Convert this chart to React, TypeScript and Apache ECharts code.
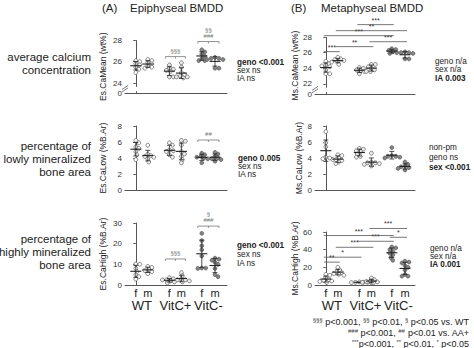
import React, { useEffect, useRef } from "react";
import * as echarts from "echarts";

const FONT = "'Liberation Sans', Arial, Helvetica, sans-serif";

// ---------- categories ----------
const sexLabels = ["f", "m", "f", "m", "f", "m"];
const genoLabels = ["WT", "VitC+", "VitC-"];
const groupPos = [0, 1, 2.8, 3.8, 5.5, 6.6];
const genoPos = [0.5, 3.3, 6.05];

// ---------- data (per group: WT f, WT m, VitC+ f, VitC+ m, VitC- f, VitC- m) ----------
const esCaMean = [
  [26.1, 26.0, 25.8, 25.7, 25.5, 25.3, 25.0],
  [26.2, 26.1, 25.9, 25.8, 25.6, 25.5, 25.4],
  [25.7, 25.4, 25.3, 25.2, 25.1, 24.6, 24.6],
  [25.9, 25.5, 25.0, 24.8, 24.7, 24.6, 24.6, 24.5],
  [27.1, 26.9, 26.7, 26.5, 26.3, 26.1, 26.1],
  [26.4, 26.3, 26.3, 26.2, 26.2, 25.4, 25.4],
];
const esCaLow = [
  [6.2, 5.9, 5.4, 5.2, 4.8, 4.4, 3.8],
  [5.6, 4.5, 4.3, 4.2, 4.1, 3.9, 3.5],
  [5.9, 5.6, 5.0, 4.9, 4.8, 4.4, 4.1],
  [6.2, 6.1, 5.6, 4.8, 4.5, 4.2, 3.8, 3.4],
  [4.6, 4.4, 4.2, 4.1, 4.0, 3.9, 3.4],
  [4.7, 4.5, 4.2, 4.0, 3.9, 3.8, 3.6],
];
const esCaHigh = [
  [10.2, 10.0, 8.0, 6.5, 5.0, 4.0, 2.8],
  [9.0, 8.5, 7.5, 7.0, 6.5, 5.5],
  [3.5, 3.0, 2.5, 2.5, 2.0, 1.5, 1.0],
  [6.0, 4.5, 3.0, 2.5, 2.5, 2.0, 1.5],
  [25.0, 21.5, 19.0, 17.0, 14.0, 8.2, 8.0, 8.2],
  [13.0, 12.5, 12.0, 11.0, 10.0, 8.0, 5.0, 4.0],
];
const msCaMean = [
  [24.9, 24.6, 24.4, 24.3, 24.2, 23.8, 23.3, 23.3],
  [25.4, 25.2, 25.1, 25.0, 24.9, 24.8, 24.5],
  [24.1, 24.0, 23.8, 23.7, 23.6, 23.3],
  [24.5, 24.5, 24.2, 24.0, 23.8, 23.6, 23.6],
  [26.5, 26.4, 26.3, 26.1, 26.0, 25.9],
  [26.1, 26.0, 26.0, 25.9, 25.2, 25.2],
];
const msCaLow = [
  [7.3, 5.9, 5.4, 4.1, 4.0, 3.9, 3.8],
  [4.4, 4.3, 4.0, 3.8, 3.7, 3.5, 3.3],
  [5.2, 5.1, 4.9, 4.8, 4.5, 4.2, 4.1],
  [4.6, 3.5, 3.4, 3.4, 3.3, 3.2, 3.0],
  [5.3, 4.3, 4.2, 4.2, 4.1, 4.0],
  [3.5, 3.2, 3.0, 2.9, 2.8, 2.7, 2.5],
];
const msCaHigh = [
  [12, 11, 8, 6, 5, 4.5, 4, 3],
  [20, 17, 15, 14, 13, 12, 11],
  [3.5, 3.2, 3, 3, 2.8, 2.5],
  [8, 6, 4.5, 4, 3.5, 3, 2.5],
  [43, 42, 40, 38, 36, 34, 31, 28],
  [27, 26, 25, 22, 20, 17, 12, 10, 10],
];

// ---------- tick labels ----------
const esCaMeanTicks = [0, 24, 26, 28];
const esCaLowTicks = [0, 2, 4, 6, 8];
const esCaHighTicks = [0, 10, 20, 30];
const msCaMeanTicks = [0, 22, 24, 26, 28];
const msCaLowTicks = [0, 2, 4, 6, 8];
const msCaHighTicks = [0, 20, 40, 60];

// ---------- significance brackets (group index from/to, level, marks) ----------
const esCaMeanBrackets = [
  { from: 2, to: 3, y: 26.47, marks: ["§§§"] },
  { from: 4, to: 5, y: 27.86, marks: ["###", "§§"] },
];
const esCaLowBrackets = [{ from: 4, to: 5, y: 6.25, marks: ["##"] }];
const esCaHighBrackets = [
  { from: 2, to: 3, y: 12.6, marks: ["§§§"] },
  { from: 4, to: 5, y: 28.5, marks: ["###", "§"] },
];
const msCaMeanBrackets = [
  { from: 0, to: 1, y: 26.13, marks: ["***"] },
  { from: 1, to: 3, y: 26.77, marks: ["**"] },
  { from: 3, to: 5, y: 27.4, marks: ["***"] },
  { from: 0, to: 4, y: 28.17, marks: ["***"] },
  { from: 1, to: 5, y: 28.81, marks: ["**"] },
  { from: 2, to: 4, y: 29.58, marks: ["***"] },
];
const msCaHighBrackets = [
  { from: 0, to: 1, y: 25.9, marks: ["**"] },
  { from: 0, to: 2, y: 31.5, marks: ["*"] },
  { from: 1, to: 3, y: 42.7, marks: ["***"] },
  { from: 2, to: 4, y: 49.5, marks: ["***"] },
  { from: 4, to: 5, y: 54, marks: ["*"] },
  { from: 0, to: 4, y: 56, marks: ["***"] },
  { from: 3, to: 5, y: 64, marks: ["***"] },
];

const groupFill = ["#ffffff", "#ffffff", "#f0f0f0", "#f0f0f0", "#858585", "#858585"];

const X_MIN = -0.9;
const X_UNIT = 12;

const panels = [
  { left: 125, top: 40, width: 102, height: 53.5, values: esCaMean, ticks: esCaMeanTicks, min: 0, max: 28,
    name: "Es.CaMean (wt%)", brk: { start: 0.3, end: 23.7, gap: 0.33 }, brackets: esCaMeanBrackets, kind: "A", bottom: false },
  { left: 125, top: 126, width: 102, height: 64, values: esCaLow, ticks: esCaLowTicks, min: 0, max: 8,
    name: "Es.CaLow (%B.Ar)", brk: null, brackets: esCaLowBrackets, kind: "A", bottom: false },
  { left: 125, top: 223, width: 102, height: 62, values: esCaHigh, ticks: esCaHighTicks, min: 0, max: 30,
    name: "Es.CaHigh (%B.Ar)", brk: null, brackets: esCaHighBrackets, kind: "A", bottom: true },
  { left: 315, top: 37, width: 100, height: 57, values: msCaMean, ticks: msCaMeanTicks, min: 0, max: 28,
    name: "Ms.CaMean (wt%)", brk: { start: 0.3, end: 21.6, gap: 0.58 }, brackets: msCaMeanBrackets, kind: "B", bottom: false },
  { left: 315, top: 126, width: 100, height: 64, values: msCaLow, ticks: msCaLowTicks, min: 0, max: 8,
    name: "Ms.CaLow (%B.Ar)", brk: null, brackets: [], kind: "B", bottom: false },
  { left: 315, top: 232, width: 100, height: 53, values: msCaHigh, ticks: msCaHighTicks, min: 0, max: 60,
    name: "Ms.CaHigh (%B.Ar)", brk: null, brackets: msCaHighBrackets, kind: "B", bottom: true },
];

const statBlocks = [
  { x: 237, y: 62, gap: 8.4, lines: [{ t: "geno <0.001", b: true }, { t: "sex ns" }, { t: "IA ns" }] },
  { x: 435, y: 61, gap: 8.8, lines: [{ t: "geno n/a" }, { t: "sex n/a" }, { t: "IA 0.003", b: true }] },
  { x: 238, y: 158, gap: 8.4, lines: [{ t: "geno 0.005", b: true }, { t: "sex ns" }, { t: "IA ns" }] },
  { x: 429, y: 147, gap: 10, lines: [{ t: "non-pm" }, { t: "geno ns" }, { t: "sex <0.001", b: true }] },
  { x: 237, y: 245, gap: 9, lines: [{ t: "geno <0.001", b: true }, { t: "sex ns" }, { t: "IA ns" }] },
  { x: 430, y: 248, gap: 8.4, lines: [{ t: "geno n/a" }, { t: "sex n/a" }, { t: "IA 0.001", b: true }] },
];

const rowLabels = [
  { y: 63.5, text: "average calcium\nconcentration" },
  { y: 158.5, text: "percentage of\nlowly mineralized\nbone area" },
  { y: 252, text: "percentage of\nhighly mineralized\nbone area" },
];

const footnotes = [
  "{s|§§§} p<0.001, {s|§§} p<0.01, {s|§} p<0.05 vs. WT",
  "{s|###} p<0.001, {s|##} p<0.01 vs. AA+",
  "{s|***}p<0.001, {s|**} p<0.01, {s|*} p<0.05",
];

const mean = (a: number[]) => a.reduce((s, v) => s + v, 0) / a.length;
const sd = (a: number[]) => {
  const m = mean(a);
  return Math.sqrt(a.reduce((s, v) => s + (v - m) * (v - m), 0) / (a.length - 1));
};
const nearestIdx = (arr: number[], v: number) => {
  let best = 0;
  arr.forEach((a, i) => {
    if (Math.abs(a - v) < Math.abs(arr[best] - v)) best = i;
  });
  return best;
};

const seg = (x1: number, y1: number, x2: number, y2: number, w = 0.9, c = "#333") => ({
  type: "line",
  shape: { x1, y1, x2, y2 },
  style: { stroke: c, lineWidth: w },
});

function pointsRender(values: number[][]) {
  return (params: any, api: any) => {
    const gi = api.value(2);
    const vals = values[gi];
    const x = groupPos[gi];
    const r = 1.9;
    const cx = api.coord([x, vals[0]])[0];
    const ys = vals.map((v) => api.coord([x, v])[1]).sort((a: number, b: number) => a - b);
    const placed: { x: number; y: number }[] = [];
    ys.forEach((py: number) => {
      let chosen = 0;
      for (let k = 0; k < 30; k++) {
        const off = k === 0 ? 0 : (k % 2 ? 1 : -1) * Math.ceil(k / 2) * 1.0;
        const ok = placed.every((p) => (p.x - (cx + off)) ** 2 + (p.y - py) ** 2 >= (2 * r * 0.85) ** 2);
        if (ok) {
          chosen = off;
          break;
        }
      }
      placed.push({ x: cx + chosen, y: py });
    });
    const children: any[] = placed.map((p) => ({
      type: "circle",
      shape: { cx: p.x, cy: p.y, r },
      style: { fill: groupFill[gi], stroke: "#5c5c5c", lineWidth: 0.75 },
    }));
    const m = mean(vals);
    const s = sd(vals);
    const ym = api.coord([x, m])[1];
    const yt = api.coord([x, m + s])[1];
    const yb = api.coord([x, m - s])[1];
    children.push(seg(cx - 5.5, ym, cx + 5.5, ym, 1.1, "#222"));
    children.push(seg(cx, yt, cx, yb, 0.8, "#222"));
    children.push(seg(cx - 2.5, yt, cx + 2.5, yt, 0.8, "#222"));
    children.push(seg(cx - 2.5, yb, cx + 2.5, yb, 0.8, "#222"));
    return { type: "group", children };
  };
}

function bracketRender(brs: any[], kind: string) {
  return (params: any, api: any) => {
    const b = brs[api.value(2)];
    const p1 = api.coord([groupPos[b.from], b.y]);
    const p2 = api.coord([groupPos[b.to], b.y]);
    const ext = kind === "A" ? 4 : 2;
    const x1 = p1[0] - ext;
    const x2 = p2[0] + ext;
    const y = p1[1];
    const col = kind === "A" ? "#777" : "#555";
    const children: any[] = [seg(x1, y, x2, y, 0.8, col)];
    if (kind === "A") {
      children.push(seg(x1, y, x1, y + 2, 0.8, col));
      children.push(seg(x2, y, x2, y + 2, 0.8, col));
      const mx = (x1 + x2) / 2;
      children.push(seg(mx, y, mx, y + 2, 0.8, col));
    }
    const mx = (x1 + x2) / 2;
    b.marks.forEach((mk: string, k: number) => {
      children.push({
        type: "text",
        x: mx,
        y: y - (kind === "A" ? 3 : 1) - k * 6,
        style: {
          text: mk,
          fontSize: kind === "A" ? 6 : 7,
          fontFamily: FONT,
          fill: kind === "A" ? "#777" : "#333",
          align: "center",
          verticalAlign: "bottom",
        },
      });
    });
    return { type: "group", children };
  };
}

function breakRender(p: any) {
  return (params: any, api: any) => {
    const mid = (p.brk.start + p.brk.end) / 2;
    const c = api.coord([X_MIN, mid]);
    const x = c[0];
    const y = c[1];
    return {
      type: "group",
      children: [
        { type: "rect", shape: { x: x - 2, y: y - 2.5, width: 4, height: 5 }, style: { fill: "#fff" } },
        seg(x - 3, y + 1, x + 3, y - 3, 0.8, "#555"),
        seg(x - 3, y + 3.5, x + 3, y - 0.5, 0.8, "#555"),
      ],
    };
  };
}

function buildOption() {
  const grid: any[] = [];
  const xAxis: any[] = [];
  const yAxis: any[] = [];
  const series: any[] = [];
  panels.forEach((p, i) => {
    grid.push({ left: p.left, top: p.top, width: p.width, height: p.height, containLabel: false, outerBoundsMode: "none" });
    const xmax = X_MIN + p.width / X_UNIT;
    xAxis.push({
      type: "value",
      gridIndex: i,
      min: X_MIN,
      max: xmax,
      axisLine: { show: true, onZero: false, lineStyle: { color: "#555", width: 1 } },
      axisTick: { show: false },
      splitLine: { show: false },
      axisLabel: p.bottom
        ? {
            show: true,
            customValues: groupPos,
            formatter: (v: number) => sexLabels[nearestIdx(groupPos, v)],
            fontSize: 11,
            fontFamily: FONT,
            color: "#222",
            margin: 2,
          }
        : { show: false },
    });
    const y: any = {
      type: "value",
      gridIndex: i,
      min: p.min,
      max: p.max,
      name: p.name,
      nameLocation: "middle",
      nameGap: p.kind === "A" ? 18 : 12,
      nameTextStyle: { fontSize: 8.5, fontFamily: FONT, color: "#222" },
      axisLine: { show: true, lineStyle: { color: "#555", width: 1 } },
      axisTick: { show: true, length: 2.5, customValues: p.ticks, lineStyle: { color: "#555" } },
      axisLabel: { customValues: p.ticks, fontSize: 8, fontFamily: FONT, color: "#333", margin: 3 },
      splitLine: { show: false },
    };
    if (p.brk) {
      y.breaks = [p.brk];
      y.breakArea = {
        show: true,
        itemStyle: { color: "#ffffff", borderColor: "rgba(0,0,0,0)", borderWidth: 0, opacity: 1 },
        zigzagAmplitude: 1,
        zigzagZ: 100,
      };
    }
    yAxis.push(y);
    series.push({
      type: "custom",
      xAxisIndex: i,
      yAxisIndex: i,
      clip: false,
      z: 5,
      data: p.values.map((vals, gi) => [groupPos[gi], mean(vals), gi]),
      encode: { x: 0, y: 1 },
      renderItem: pointsRender(p.values),
    });
    if (p.brackets.length) {
      series.push({
        type: "custom",
        xAxisIndex: i,
        yAxisIndex: i,
        clip: false,
        z: 6,
        data: p.brackets.map((b: any, bi: number) => [groupPos[b.from], b.y, bi]),
        encode: { x: 0, y: 1 },
        renderItem: bracketRender(p.brackets, p.kind),
      });
    }
    if (p.brk) {
      series.push({
        type: "custom",
        xAxisIndex: i,
        yAxisIndex: i,
        clip: false,
        z: 200,
        data: [[X_MIN, (p.brk.start + p.brk.end) / 2, 0]],
        encode: { x: 0, y: 1 },
        renderItem: breakRender(p),
      });
    }
  });
  panels.forEach((p, i) => {
    if (!p.bottom) return;
    xAxis.push({
      type: "value",
      gridIndex: i,
      position: "bottom",
      min: X_MIN,
      max: X_MIN + p.width / X_UNIT,
      axisLine: { show: false },
      axisTick: { show: false },
      splitLine: { show: false },
      axisLabel: {
        show: true,
        customValues: genoPos,
        formatter: (v: number) => genoLabels[nearestIdx(genoPos, v)],
        fontSize: 13,
        fontFamily: FONT,
        color: "#222",
        margin: 14,
      },
    });
  });

  const graphic: any[] = [];
  graphic.push({ type: "text", x: 102, y: 8, style: { text: "(A)", fontSize: 11.5, fontFamily: FONT, fill: "#222", verticalAlign: "middle" } });
  graphic.push({ type: "text", x: 130, y: 8, style: { text: "Epiphyseal BMDD", fontSize: 11.5, fontFamily: FONT, fill: "#222", verticalAlign: "middle" } });
  graphic.push({ type: "text", x: 291, y: 8, style: { text: "(B)", fontSize: 11.5, fontFamily: FONT, fill: "#222", verticalAlign: "middle" } });
  graphic.push({ type: "text", x: 321, y: 8, style: { text: "Metaphyseal BMDD", fontSize: 11.5, fontFamily: FONT, fill: "#222", verticalAlign: "middle" } });
  rowLabels.forEach((r) => {
    graphic.push({
      type: "text",
      x: 91,
      y: r.y,
      style: { text: r.text, fontSize: 11.5, lineHeight: 13, fontFamily: FONT, fill: "#222", align: "right", verticalAlign: "middle" },
    });
  });
  statBlocks.forEach((s) => {
    s.lines.forEach((l: any, k: number) => {
      graphic.push({
        type: "text",
        x: s.x,
        y: s.y + k * s.gap,
        style: {
          text: l.t,
          fontSize: 8.2,
          fontWeight: l.b ? "bold" : "normal",
          fontFamily: FONT,
          fill: "#222",
          verticalAlign: "middle",
        },
      });
    });
  });
  footnotes.forEach((f, k) => {
    graphic.push({
      type: "text",
      x: 469,
      y: 322 + k * 11,
      style: {
        text: f,
        fontSize: 9,
        fontFamily: FONT,
        fill: "#222",
        align: "right",
        verticalAlign: "middle",
        rich: { s: { fontSize: 6, fontFamily: FONT, fill: "#444", verticalAlign: "top", lineHeight: 10 } },
      },
    });
  });

  return {
    animation: false,
    backgroundColor: "#ffffff",
    textStyle: { fontFamily: FONT },
    grid,
    xAxis,
    yAxis,
    series,
    graphic,
  };
}

export default function App() {
  const ref = useRef<HTMLDivElement>(null);
  useEffect(() => {
    if (!ref.current) return;
    const chart = echarts.init(ref.current, null, { renderer: "svg" });
    chart.setOption(buildOption() as any);
    return () => chart.dispose();
  }, []);
  return (
    <div
      ref={ref}
      style={{ position: "absolute", left: 0, top: 0, width: 474, height: 348, background: "#fff" }}
    />
  );
}
